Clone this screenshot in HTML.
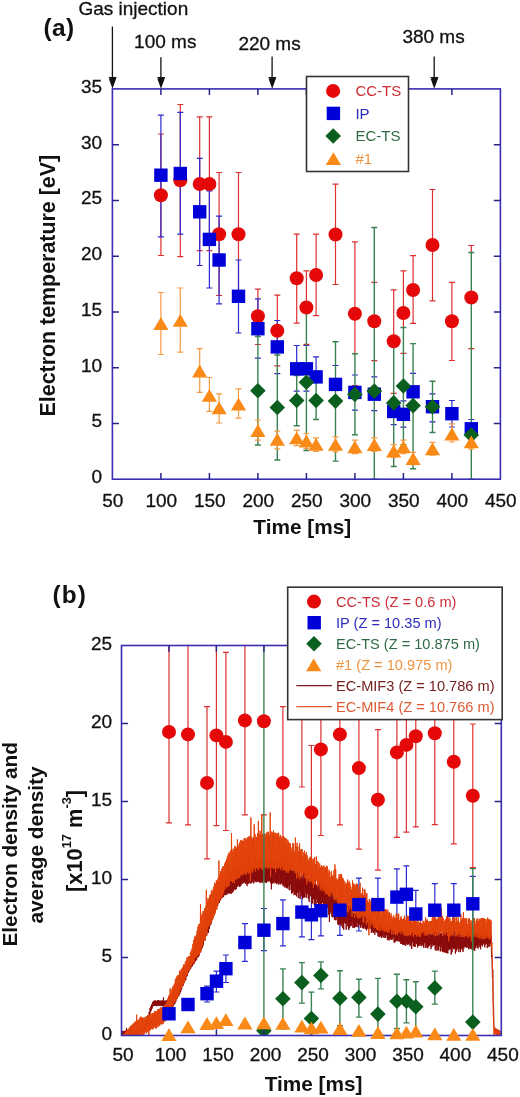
<!DOCTYPE html>
<html><head><meta charset="utf-8"><title>Electron temperature and density</title>
<style>html,body{margin:0;padding:0;background:#fff;}svg{display:block;}</style>
</head><body>
<svg width="520" height="1097" viewBox="0 0 520 1097" font-family='"Liberation Sans", Arial, sans-serif'>
<rect width="520" height="1097" fill="#fff"/>
<text x="78.4" y="15.2" font-size="19" fill="#111" stroke="#111" stroke-width="0.3">Gas injection</text>
<text x="43.6" y="36.3" font-size="24.4" fill="#111" font-weight="bold" letter-spacing="0.3">(a)</text>
<text x="134.1" y="48.4" font-size="19" fill="#111" stroke="#111" stroke-width="0.3">100 ms</text>
<text x="238.4" y="49.8" font-size="19" fill="#111" stroke="#111" stroke-width="0.3">220 ms</text>
<text x="402.4" y="43.3" font-size="19" fill="#111" stroke="#111" stroke-width="0.3">380 ms</text>
<path d="M112.4 26.5V79.5" stroke="#111" stroke-width="1.3"/><path d="M108.2 77L116.6 77L112.4 88.5L112.4 80.5Z" fill="#111"/><path d="M108.8 78.5L116 78.5L112.4 88.5Z" fill="#111"/>
<path d="M160.9 57.2V79.5" stroke="#111" stroke-width="1.3"/><path d="M156.7 77L165.1 77L160.9 88.5L160.9 80.5Z" fill="#111"/><path d="M157.3 78.5L164.5 78.5L160.9 88.5Z" fill="#111"/>
<path d="M272.1 56.4V79.5" stroke="#111" stroke-width="1.3"/><path d="M267.9 77L276.3 77L272.1 88.5L272.1 80.5Z" fill="#111"/><path d="M268.5 78.5L275.7 78.5L272.1 88.5Z" fill="#111"/>
<path d="M434.2 56.5V79.5" stroke="#111" stroke-width="1.3"/><path d="M430 77L438.4 77L434.2 88.5L434.2 80.5Z" fill="#111"/><path d="M430.6 78.5L437.8 78.5L434.2 88.5Z" fill="#111"/>
<defs><clipPath id="ca"><rect x="112.4" y="88.9" width="388" height="390.3"/></clipPath>
<clipPath id="cb"><rect x="121.5" y="645.5" width="379.8" height="390"/></clipPath></defs>
<g clip-path="url(#ca)"><path d="M160.9 134V255.5M157.9 134H163.9M157.9 255.5H163.9" stroke="#dd3030" stroke-width="1.2" fill="none"/><path d="M180.3 104.5V256.7M177.3 104.5H183.3M177.3 256.7H183.3" stroke="#dd3030" stroke-width="1.2" fill="none"/><path d="M199.7 116.8V250.6M196.7 116.8H202.7M196.7 250.6H202.7" stroke="#dd3030" stroke-width="1.2" fill="none"/><path d="M209.4 116.8V250.6M206.4 116.8H212.4M206.4 250.6H212.4" stroke="#dd3030" stroke-width="1.2" fill="none"/><path d="M219.1 172.5V295.5M216.1 172.5H222.1M216.1 295.5H222.1" stroke="#dd3030" stroke-width="1.2" fill="none"/><path d="M238.5 172.5V295.5M235.5 172.5H241.5M235.5 295.5H241.5" stroke="#dd3030" stroke-width="1.2" fill="none"/><path d="M257.9 289.1V336.5M254.9 289.1H260.9M254.9 344.5H260.9" stroke="#dd3030" stroke-width="1.2" fill="none"/><path d="M277.3 295.2V355M274.3 295.2H280.3M274.3 365.8H280.3" stroke="#dd3030" stroke-width="1.2" fill="none"/><path d="M296.7 234.2V323.1M293.7 234.2H299.7M293.7 323.1H299.7" stroke="#dd3030" stroke-width="1.2" fill="none"/><path d="M306.4 270.8V312.9M303.4 270.8H309.4M303.4 344.3H309.4" stroke="#dd3030" stroke-width="1.2" fill="none"/><path d="M316.1 234.2V315.7M313.1 234.2H319.1M313.1 315.7H319.1" stroke="#dd3030" stroke-width="1.2" fill="none"/><path d="M335.5 184.1V284.5M332.5 184.1H338.5M332.5 284.5H338.5" stroke="#dd3030" stroke-width="1.2" fill="none"/><path d="M354.9 241.8V353.7M351.9 241.8H357.9M351.9 385.5H357.9" stroke="#dd3030" stroke-width="1.2" fill="none"/><path d="M371.3 282.3H377.3M371.3 360.7H377.3" stroke="#dd3030" stroke-width="1.2" fill="none"/><path d="M393.7 289.8V339.4M390.7 289.8H396.7M390.7 393.3H396.7" stroke="#dd3030" stroke-width="1.2" fill="none"/><path d="M403.4 270.8V327.5M400.4 270.8H406.4M400.4 353.4H406.4" stroke="#dd3030" stroke-width="1.2" fill="none"/><path d="M413.1 255.7V323.3M410.1 255.7H416.1M410.1 323.3H416.1" stroke="#dd3030" stroke-width="1.2" fill="none"/><path d="M432.5 189.5V300.8M429.5 189.5H435.5M429.5 300.8H435.5" stroke="#dd3030" stroke-width="1.2" fill="none"/><path d="M451.9 282.3V360.5M448.9 282.3H454.9M448.9 360.5H454.9" stroke="#dd3030" stroke-width="1.2" fill="none"/><path d="M471.3 245.5V252.5M468.3 245.5H474.3M468.3 348.7H474.3" stroke="#dd3030" stroke-width="1.2" fill="none"/><path d="M160.9 115.2V236.8M157.9 115.2H163.9M157.9 236.8H163.9" stroke="#2a2ad0" stroke-width="1.2" fill="none"/><path d="M180.3 112.3V234.2M177.3 112.3H183.3M177.3 234.2H183.3" stroke="#2a2ad0" stroke-width="1.2" fill="none"/><path d="M199.7 158.3V265.5M196.7 158.3H202.7M196.7 265.5H202.7" stroke="#2a2ad0" stroke-width="1.2" fill="none"/><path d="M209.4 190.9V288M206.4 190.9H212.4M206.4 288H212.4" stroke="#2a2ad0" stroke-width="1.2" fill="none"/><path d="M219.1 216.2V303.8M216.1 216.2H222.1M216.1 303.8H222.1" stroke="#2a2ad0" stroke-width="1.2" fill="none"/><path d="M238.5 260V333M235.5 260H241.5M235.5 333H241.5" stroke="#2a2ad0" stroke-width="1.2" fill="none"/><path d="M257.9 298.8V336.5M254.9 298.8H260.9M254.9 358.2H260.9" stroke="#2a2ad0" stroke-width="1.2" fill="none"/><path d="M277.3 320.5V355M274.3 320.5H280.3M274.3 373.7H280.3" stroke="#2a2ad0" stroke-width="1.2" fill="none"/><path d="M296.7 345.5V375.5M293.7 345.5H299.7M293.7 391.2H299.7" stroke="#2a2ad0" stroke-width="1.2" fill="none"/><path d="M303.4 345.5H309.4M303.4 391.2H309.4" stroke="#2a2ad0" stroke-width="1.2" fill="none"/><path d="M316.1 356.8V381.4M313.1 356.8H319.1M313.1 397.1H319.1" stroke="#2a2ad0" stroke-width="1.2" fill="none"/><path d="M332.5 365.5H338.5M332.5 403.4H338.5" stroke="#2a2ad0" stroke-width="1.2" fill="none"/><path d="M351.9 375H357.9M351.9 410.1H357.9" stroke="#2a2ad0" stroke-width="1.2" fill="none"/><path d="M371.3 376.9H377.3M371.3 410.7H377.3" stroke="#2a2ad0" stroke-width="1.2" fill="none"/><path d="M390.7 398.4H396.7M390.7 424.7H396.7" stroke="#2a2ad0" stroke-width="1.2" fill="none"/><path d="M400.4 400.8H406.4M400.4 427.1H406.4" stroke="#2a2ad0" stroke-width="1.2" fill="none"/><path d="M410.1 373.3H416.1M410.1 410.3H416.1" stroke="#2a2ad0" stroke-width="1.2" fill="none"/><path d="M429.5 393.8H435.5M429.5 421.8H435.5" stroke="#2a2ad0" stroke-width="1.2" fill="none"/><path d="M451.9 400.5V427M448.9 400.5H454.9M448.9 427H454.9" stroke="#2a2ad0" stroke-width="1.2" fill="none"/><path d="M468.3 419.5H474.3M468.3 437.9H474.3" stroke="#2a2ad0" stroke-width="1.2" fill="none"/><path d="M257.9 336.5V445M254.9 336.5H260.9M254.9 445H260.9" stroke="#3a8252" stroke-width="1.4" fill="none"/><path d="M277.3 355V460M274.3 355H280.3M274.3 460H280.3" stroke="#3a8252" stroke-width="1.4" fill="none"/><path d="M296.7 375.5V425.7M293.7 375.5H299.7M293.7 425.7H299.7" stroke="#3a8252" stroke-width="1.4" fill="none"/><path d="M306.4 312.9V450.5M303.4 312.9H309.4M303.4 450.5H309.4" stroke="#3a8252" stroke-width="1.4" fill="none"/><path d="M316.1 381.4V419.5M313.1 381.4H319.1M313.1 419.5H319.1" stroke="#3a8252" stroke-width="1.4" fill="none"/><path d="M335.5 341.7V461.1M332.5 341.7H338.5M332.5 461.1H338.5" stroke="#3a8252" stroke-width="1.4" fill="none"/><path d="M354.9 353.7V434.8M351.9 353.7H357.9M351.9 434.8H357.9" stroke="#3a8252" stroke-width="1.4" fill="none"/><path d="M374.3 227.5V479.2M371.3 227.5H377.3M371.3 479.2H377.3" stroke="#3a8252" stroke-width="1.4" fill="none"/><path d="M393.7 339.4V466.5M390.7 339.4H396.7M390.7 466.5H396.7" stroke="#3a8252" stroke-width="1.4" fill="none"/><path d="M403.4 327.5V444.6M400.4 327.5H406.4M400.4 444.6H406.4" stroke="#3a8252" stroke-width="1.4" fill="none"/><path d="M413.1 343.6V468.8M410.1 343.6H416.1M410.1 468.8H416.1" stroke="#3a8252" stroke-width="1.4" fill="none"/><path d="M432.5 381.3V432.5M429.5 381.3H435.5M429.5 432.5H435.5" stroke="#3a8252" stroke-width="1.4" fill="none"/><path d="M471.3 252.5V479.2M468.3 252.5H474.3M468.3 479.2H474.3" stroke="#3a8252" stroke-width="1.4" fill="none"/><path d="M160.9 292.5V354.5M157.9 292.5H163.9M157.9 354.5H163.9" stroke="#f59a40" stroke-width="1.2" fill="none"/><path d="M180.3 288V352.1M177.3 288H183.3M177.3 352.1H183.3" stroke="#f59a40" stroke-width="1.2" fill="none"/><path d="M199.7 348.7V392.4M196.7 348.7H202.7M196.7 392.4H202.7" stroke="#f59a40" stroke-width="1.2" fill="none"/><path d="M209.4 377.5V411.3M206.4 377.5H212.4M206.4 411.3H212.4" stroke="#f59a40" stroke-width="1.2" fill="none"/><path d="M219.1 393.8V423M216.1 393.8H222.1M216.1 423H222.1" stroke="#f59a40" stroke-width="1.2" fill="none"/><path d="M238.5 388.8V418.2M235.5 388.8H241.5M235.5 418.2H241.5" stroke="#f59a40" stroke-width="1.2" fill="none"/><path d="M257.9 420V440.2M254.9 420H260.9M254.9 440.2H260.9" stroke="#f59a40" stroke-width="1.2" fill="none"/><path d="M277.3 431.2V448.8M274.3 431.2H280.3M274.3 448.8H280.3" stroke="#f59a40" stroke-width="1.2" fill="none"/><path d="M296.7 430.1V445.7M293.7 430.1H299.7M293.7 445.7H299.7" stroke="#f59a40" stroke-width="1.2" fill="none"/><path d="M306.4 433.5V448.5M303.4 433.5H309.4M303.4 448.5H309.4" stroke="#f59a40" stroke-width="1.2" fill="none"/><path d="M316.1 437.9V451.3M313.1 437.9H319.1M313.1 451.3H319.1" stroke="#f59a40" stroke-width="1.2" fill="none"/><path d="M335.5 436.8V451.9M332.5 436.8H338.5M332.5 451.9H338.5" stroke="#f59a40" stroke-width="1.2" fill="none"/><path d="M354.9 440.2V453.6M351.9 440.2H357.9M351.9 453.6H357.9" stroke="#f59a40" stroke-width="1.2" fill="none"/><path d="M374.3 437.9V451.3M371.3 437.9H377.3M371.3 451.3H377.3" stroke="#f59a40" stroke-width="1.2" fill="none"/><path d="M393.7 444.6V457.5M390.7 444.6H396.7M390.7 457.5H396.7" stroke="#f59a40" stroke-width="1.2" fill="none"/><path d="M403.4 440.2V453.6M400.4 440.2H406.4M400.4 453.6H406.4" stroke="#f59a40" stroke-width="1.2" fill="none"/><path d="M413.1 452.4V464.7M410.1 452.4H416.1M410.1 464.7H416.1" stroke="#f59a40" stroke-width="1.2" fill="none"/><path d="M432.5 442.4V455.2M429.5 442.4H435.5M429.5 455.2H435.5" stroke="#f59a40" stroke-width="1.2" fill="none"/><path d="M451.9 423.8V442M448.9 423.8H454.9M448.9 442H454.9" stroke="#f59a40" stroke-width="1.2" fill="none"/><path d="M471.3 434.6V449.1M468.3 434.6H474.3M468.3 449.1H474.3" stroke="#f59a40" stroke-width="1.2" fill="none"/><circle cx="160.9" cy="195.3" r="7" fill="#e40808"/><circle cx="180.3" cy="180.3" r="7" fill="#e40808"/><circle cx="199.7" cy="184" r="7" fill="#e40808"/><circle cx="209.4" cy="184" r="7" fill="#e40808"/><circle cx="219.1" cy="234.2" r="7" fill="#e40808"/><circle cx="238.5" cy="234.2" r="7" fill="#e40808"/><circle cx="257.9" cy="316.3" r="7" fill="#e40808"/><circle cx="277.3" cy="330.8" r="7" fill="#e40808"/><circle cx="296.7" cy="278.3" r="7" fill="#e40808"/><circle cx="306.4" cy="307.5" r="7" fill="#e40808"/><circle cx="316.1" cy="275" r="7" fill="#e40808"/><circle cx="335.5" cy="234.5" r="7" fill="#e40808"/><circle cx="354.9" cy="313.7" r="7" fill="#e40808"/><circle cx="374.3" cy="321.3" r="7" fill="#e40808"/><circle cx="393.7" cy="341.3" r="7" fill="#e40808"/><circle cx="403.4" cy="313" r="7" fill="#e40808"/><circle cx="413.1" cy="290" r="7" fill="#e40808"/><circle cx="432.5" cy="245" r="7" fill="#e40808"/><circle cx="451.9" cy="321.3" r="7" fill="#e40808"/><circle cx="471.3" cy="297.5" r="7" fill="#e40808"/><rect x="154.2" y="168.5" width="13.4" height="13.4" fill="#0000d8"/><rect x="173.6" y="166.8" width="13.4" height="13.4" fill="#0000d8"/><rect x="193" y="205.1" width="13.4" height="13.4" fill="#0000d8"/><rect x="202.7" y="232.7" width="13.4" height="13.4" fill="#0000d8"/><rect x="212.4" y="253.3" width="13.4" height="13.4" fill="#0000d8"/><rect x="231.8" y="289.6" width="13.4" height="13.4" fill="#0000d8"/><rect x="251.2" y="322" width="13.4" height="13.4" fill="#0000d8"/><rect x="270.6" y="340.2" width="13.4" height="13.4" fill="#0000d8"/><rect x="290" y="362.1" width="13.4" height="13.4" fill="#0000d8"/><rect x="299.7" y="362.1" width="13.4" height="13.4" fill="#0000d8"/><rect x="309.4" y="370.2" width="13.4" height="13.4" fill="#0000d8"/><rect x="328.8" y="377.7" width="13.4" height="13.4" fill="#0000d8"/><rect x="348.2" y="385.7" width="13.4" height="13.4" fill="#0000d8"/><rect x="367.6" y="387.5" width="13.4" height="13.4" fill="#0000d8"/><rect x="387" y="404.8" width="13.4" height="13.4" fill="#0000d8"/><rect x="396.7" y="407.6" width="13.4" height="13.4" fill="#0000d8"/><rect x="406.4" y="385.1" width="13.4" height="13.4" fill="#0000d8"/><rect x="425.8" y="400" width="13.4" height="13.4" fill="#0000d8"/><rect x="445.2" y="407" width="13.4" height="13.4" fill="#0000d8"/><rect x="464.6" y="422.1" width="13.4" height="13.4" fill="#0000d8"/><path d="M257.9 382.9L265.7 390.7L257.9 398.5L250.1 390.7Z" fill="#0a5e1e"/><path d="M277.3 399.7L285.1 407.5L277.3 415.3L269.5 407.5Z" fill="#0a5e1e"/><path d="M296.7 392.7L304.5 400.5L296.7 408.3L288.9 400.5Z" fill="#0a5e1e"/><path d="M306.4 374.4L314.2 382.2L306.4 390L298.6 382.2Z" fill="#0a5e1e"/><path d="M316.1 392.7L323.9 400.5L316.1 408.3L308.3 400.5Z" fill="#0a5e1e"/><path d="M335.5 393.3L343.3 401.1L335.5 408.9L327.7 401.1Z" fill="#0a5e1e"/><path d="M354.9 386.6L362.7 394.4L354.9 402.2L347.1 394.4Z" fill="#0a5e1e"/><path d="M374.3 383.3L382.1 391.1L374.3 398.9L366.5 391.1Z" fill="#0a5e1e"/><path d="M393.7 395.1L401.5 402.9L393.7 410.7L385.9 402.9Z" fill="#0a5e1e"/><path d="M403.4 378.2L411.2 386L403.4 393.8L395.6 386Z" fill="#0a5e1e"/><path d="M413.1 397.8L420.9 405.6L413.1 413.4L405.3 405.6Z" fill="#0a5e1e"/><path d="M432.5 398.9L440.3 406.7L432.5 414.5L424.7 406.7Z" fill="#0a5e1e"/><path d="M471.3 427.2L479.1 435L471.3 442.8L463.5 435Z" fill="#0a5e1e"/><path d="M160.9 317.1L168.5 329.9L153.3 329.9Z" fill="#fa8a18"/><path d="M180.3 314L187.9 326.8L172.7 326.8Z" fill="#fa8a18"/><path d="M199.7 364.6L207.3 377.4L192.1 377.4Z" fill="#fa8a18"/><path d="M209.4 388.9L217 401.7L201.8 401.7Z" fill="#fa8a18"/><path d="M219.1 401.4L226.7 414.2L211.5 414.2Z" fill="#fa8a18"/><path d="M238.5 397.8L246.1 410.6L230.9 410.6Z" fill="#fa8a18"/><path d="M257.9 424.1L265.5 436.9L250.3 436.9Z" fill="#fa8a18"/><path d="M277.3 433L284.9 445.8L269.7 445.8Z" fill="#fa8a18"/><path d="M296.7 431.5L304.3 444.3L289.1 444.3Z" fill="#fa8a18"/><path d="M306.4 434.6L314 447.4L298.8 447.4Z" fill="#fa8a18"/><path d="M316.1 438L323.7 450.8L308.5 450.8Z" fill="#fa8a18"/><path d="M335.5 438L343.1 450.8L327.9 450.8Z" fill="#fa8a18"/><path d="M354.9 440.5L362.5 453.3L347.3 453.3Z" fill="#fa8a18"/><path d="M374.3 438.2L381.9 451L366.7 451Z" fill="#fa8a18"/><path d="M393.7 444.6L401.3 457.4L386.1 457.4Z" fill="#fa8a18"/><path d="M403.4 440.5L411 453.3L395.8 453.3Z" fill="#fa8a18"/><path d="M413.1 452.2L420.7 465L405.5 465Z" fill="#fa8a18"/><path d="M432.5 442.4L440.1 455.2L424.9 455.2Z" fill="#fa8a18"/><path d="M451.9 427.6L459.5 440.4L444.3 440.4Z" fill="#fa8a18"/><path d="M471.3 435.4L478.9 448.2L463.7 448.2Z" fill="#fa8a18"/></g>
<rect x="112.4" y="88.9" width="388" height="390.3" fill="none" stroke="#3a2eb4" stroke-width="1.6"/>
<path d="M160.9 479.2v-6.2M160.9 88.9v6.2M209.4 479.2v-6.2M209.4 88.9v6.2M257.9 479.2v-6.2M257.9 88.9v6.2M306.4 479.2v-6.2M306.4 88.9v6.2M354.9 479.2v-6.2M354.9 88.9v6.2M403.4 479.2v-6.2M403.4 88.9v6.2M451.9 479.2v-6.2M451.9 88.9v6.2M112.4 423.4h6.6M500.4 423.4h-6.6M112.4 367.7h6.6M500.4 367.7h-6.6M112.4 311.9h6.6M500.4 311.9h-6.6M112.4 256.2h6.6M500.4 256.2h-6.6M112.4 200.4h6.6M500.4 200.4h-6.6M112.4 144.7h6.6M500.4 144.7h-6.6" stroke="#2c2488" stroke-width="1.5" fill="none"/>
<text x="112.8" y="506.6" font-size="19" fill="#111" text-anchor="middle" stroke="#111" stroke-width="0.3">50</text>
<text x="161.3" y="506.6" font-size="19" fill="#111" text-anchor="middle" stroke="#111" stroke-width="0.3">100</text>
<text x="209.8" y="506.6" font-size="19" fill="#111" text-anchor="middle" stroke="#111" stroke-width="0.3">150</text>
<text x="258.3" y="506.6" font-size="19" fill="#111" text-anchor="middle" stroke="#111" stroke-width="0.3">200</text>
<text x="306.8" y="506.6" font-size="19" fill="#111" text-anchor="middle" stroke="#111" stroke-width="0.3">250</text>
<text x="355.3" y="506.6" font-size="19" fill="#111" text-anchor="middle" stroke="#111" stroke-width="0.3">300</text>
<text x="403.8" y="506.6" font-size="19" fill="#111" text-anchor="middle" stroke="#111" stroke-width="0.3">350</text>
<text x="452.3" y="506.6" font-size="19" fill="#111" text-anchor="middle" stroke="#111" stroke-width="0.3">400</text>
<text x="500.8" y="506.6" font-size="19" fill="#111" text-anchor="middle" stroke="#111" stroke-width="0.3">450</text>
<text x="102.2" y="483.2" font-size="19" fill="#111" text-anchor="end" stroke="#111" stroke-width="0.3">0</text>
<text x="102.2" y="427.4" font-size="19" fill="#111" text-anchor="end" stroke="#111" stroke-width="0.3">5</text>
<text x="102.2" y="371.7" font-size="19" fill="#111" text-anchor="end" stroke="#111" stroke-width="0.3">10</text>
<text x="102.2" y="315.9" font-size="19" fill="#111" text-anchor="end" stroke="#111" stroke-width="0.3">15</text>
<text x="102.2" y="260.2" font-size="19" fill="#111" text-anchor="end" stroke="#111" stroke-width="0.3">20</text>
<text x="102.2" y="204.4" font-size="19" fill="#111" text-anchor="end" stroke="#111" stroke-width="0.3">25</text>
<text x="102.2" y="148.7" font-size="19" fill="#111" text-anchor="end" stroke="#111" stroke-width="0.3">30</text>
<text x="102.2" y="92.9" font-size="19" fill="#111" text-anchor="end" stroke="#111" stroke-width="0.3">35</text>
<text x="302.3" y="534.4" font-size="20.8" fill="#111" font-weight="bold" text-anchor="middle">Time [ms]</text>
<text transform="translate(55.2 285.7) rotate(-90)" font-size="21.4" font-weight="bold" fill="#111" text-anchor="middle">Electron temperature [eV]</text>
<rect x="306.5" y="76.5" width="102" height="95" fill="#fff" stroke="#333" stroke-width="1.6"/>
<circle cx="333.1" cy="90.9" r="7" fill="#e40808"/>
<text x="355.4" y="96.3" font-size="15" fill="#cc2c36">CC-TS</text>
<rect x="326.7" y="106.7" width="13.4" height="13.4" fill="#0000d8"/>
<text x="355.4" y="118.8" font-size="15" fill="#2c2cbc">IP</text>
<path d="M333.2 128.2L341 136L333.2 143.8L325.4 136Z" fill="#0a5e1e"/>
<text x="355.4" y="141.4" font-size="15" fill="#2f6a44">EC-TS</text>
<path d="M333.4 152.3L341 165.1L325.8 165.1Z" fill="#fa8a18"/>
<text x="355.4" y="164.1" font-size="15" fill="#ee9440">#1</text>
<text x="52.6" y="603" font-size="24.4" fill="#111" font-weight="bold" letter-spacing="1.1">(b)</text>
<g clip-path="url(#cb)"><path d="M169 640.8V822.9M166 640.8H172M166 822.9H172" stroke="#dd3030" stroke-width="1.2" fill="none"/><path d="M188 643.9V824.9M185 643.9H191M185 824.9H191" stroke="#dd3030" stroke-width="1.2" fill="none"/><path d="M207 706.7V858.8M204 706.7H210M204 858.8H210" stroke="#dd3030" stroke-width="1.2" fill="none"/><path d="M216.4 645V825.7M213.4 645H219.4M213.4 825.7H219.4" stroke="#dd3030" stroke-width="1.2" fill="none"/><path d="M225.9 652.4V830.5M222.9 652.4H228.9M222.9 830.5H228.9" stroke="#dd3030" stroke-width="1.2" fill="none"/><path d="M244.9 625.2V814.9M241.9 625.2H247.9M241.9 814.9H247.9" stroke="#dd3030" stroke-width="1.2" fill="none"/><path d="M263.9 626.8V629.9M260.9 626.8H266.9M260.9 814.9H266.9" stroke="#dd3030" stroke-width="1.2" fill="none"/><path d="M282.9 706.7V859.2M279.9 706.7H285.9M279.9 859.2H285.9" stroke="#dd3030" stroke-width="1.2" fill="none"/><path d="M301.9 620.5V787M298.9 620.5H304.9M298.9 787H304.9" stroke="#dd3030" stroke-width="1.2" fill="none"/><path d="M311.4 745.5V879.5M308.4 745.5H314.4M308.4 879.5H314.4" stroke="#dd3030" stroke-width="1.2" fill="none"/><path d="M320.9 663.3V835.5M317.9 663.3H323.9M317.9 835.5H323.9" stroke="#dd3030" stroke-width="1.2" fill="none"/><path d="M339.9 643.9V824.9M336.9 643.9H342.9M336.9 824.9H342.9" stroke="#dd3030" stroke-width="1.2" fill="none"/><path d="M358.9 687V849.2M355.9 687H361.9M355.9 849.2H361.9" stroke="#dd3030" stroke-width="1.2" fill="none"/><path d="M377.9 729.7V870.1M374.9 729.7H380.9M374.9 870.1H380.9" stroke="#dd3030" stroke-width="1.2" fill="none"/><path d="M396.9 667.3V837.4M393.9 667.3H399.9M393.9 837.4H399.9" stroke="#dd3030" stroke-width="1.2" fill="none"/><path d="M406.4 658V832.2M403.4 658H409.4M403.4 832.2H409.4" stroke="#dd3030" stroke-width="1.2" fill="none"/><path d="M415.8 645.5V826.8M412.8 645.5H418.8M412.8 826.8H418.8" stroke="#dd3030" stroke-width="1.2" fill="none"/><path d="M434.8 642.4V824.6M431.8 642.4H437.8M431.8 824.6H437.8" stroke="#dd3030" stroke-width="1.2" fill="none"/><path d="M453.8 679.8V843.9M450.8 679.8H456.8M450.8 843.9H456.8" stroke="#dd3030" stroke-width="1.2" fill="none"/><path d="M472.8 724V867.6M469.8 724H475.8M469.8 867.6H475.8" stroke="#dd3030" stroke-width="1.2" fill="none"/><path d="M169 1010.5V1016.8M166 1010.5H172M166 1016.8H172" stroke="#2a2ad0" stroke-width="1.2" fill="none"/><path d="M188 1001.2V1007.4M185 1001.2H191M185 1007.4H191" stroke="#2a2ad0" stroke-width="1.2" fill="none"/><path d="M207 986.2V1002M204 986.2H210M204 1002H210" stroke="#2a2ad0" stroke-width="1.2" fill="none"/><path d="M216.4 971.2V992M213.4 971.2H219.4M213.4 992H219.4" stroke="#2a2ad0" stroke-width="1.2" fill="none"/><path d="M225.9 955V982.5M222.9 955H228.9M222.9 982.5H228.9" stroke="#2a2ad0" stroke-width="1.2" fill="none"/><path d="M244.9 923.6V961.4M241.9 923.6H247.9M241.9 961.4H247.9" stroke="#2a2ad0" stroke-width="1.2" fill="none"/><path d="M263.9 908.5V950.6M260.9 908.5H266.9M260.9 950.6H266.9" stroke="#2a2ad0" stroke-width="1.2" fill="none"/><path d="M282.9 899.9V945.8M279.9 899.9H285.9M279.9 945.8H285.9" stroke="#2a2ad0" stroke-width="1.2" fill="none"/><path d="M301.9 887.3V936.9M298.9 887.3H304.9M298.9 936.9H304.9" stroke="#2a2ad0" stroke-width="1.2" fill="none"/><path d="M311.4 890V939.6M308.4 890H314.4M308.4 939.6H314.4" stroke="#2a2ad0" stroke-width="1.2" fill="none"/><path d="M320.9 885.7V935.8M317.9 885.7H323.9M317.9 935.8H323.9" stroke="#2a2ad0" stroke-width="1.2" fill="none"/><path d="M339.9 885.1V935.3M336.9 885.1H342.9M336.9 935.3H342.9" stroke="#2a2ad0" stroke-width="1.2" fill="none"/><path d="M358.9 878.1V931M355.9 878.1H361.9M355.9 931H361.9" stroke="#2a2ad0" stroke-width="1.2" fill="none"/><path d="M377.9 878.1V931M374.9 878.1H380.9M374.9 931H380.9" stroke="#2a2ad0" stroke-width="1.2" fill="none"/><path d="M396.9 868.9V925.4M393.9 868.9H399.9M393.9 925.4H399.9" stroke="#2a2ad0" stroke-width="1.2" fill="none"/><path d="M406.4 865.9V922.7M403.4 865.9H409.4M403.4 922.7H409.4" stroke="#2a2ad0" stroke-width="1.2" fill="none"/><path d="M415.8 890.3V937.7M412.8 890.3H418.8M412.8 937.7H418.8" stroke="#2a2ad0" stroke-width="1.2" fill="none"/><path d="M434.8 883.7V936.8M431.8 883.7H437.8M431.8 936.8H437.8" stroke="#2a2ad0" stroke-width="1.2" fill="none"/><path d="M453.8 883.7V936.8M450.8 883.7H456.8M450.8 936.8H456.8" stroke="#2a2ad0" stroke-width="1.2" fill="none"/><path d="M472.8 876.4V931.3M469.8 876.4H475.8M469.8 931.3H475.8" stroke="#2a2ad0" stroke-width="1.2" fill="none"/><path d="M121.5 1031.1L121.9 1035.4L122.3 1031.1L122.8 1035.5L123.2 1030.8L123.6 1034.9L124 1031.1L124.4 1035.2L124.9 1030.8L125.3 1035.3L125.7 1030.7L126.1 1035.1L126.5 1027.9L127 1035.3L127.4 1030.6L127.8 1034.9L128.2 1030.5L128.6 1034.9L129.1 1030L129.5 1035.4L129.9 1030.2L130.3 1035.4L130.7 1030.2L131.2 1035.2L131.6 1030.6L132 1034.9L132.4 1030.7L132.8 1035.5L133.3 1030.6L133.7 1035.2L134.1 1030.1L134.5 1035.2L134.9 1030L135.4 1034.9L135.8 1030.5L136.2 1035.5L136.6 1030.4L137 1035.5L137.5 1030L137.9 1035.4L138.3 1030.6L138.7 1034.8L139.1 1030L139.6 1035.5L140 1030.2L140.4 1035L140.8 1029.6L141.2 1033.4L141.7 1028.3L142.1 1032.7L142.5 1027.4L142.9 1031.6L143.3 1026.4L143.8 1030.6L144.2 1025.3L144.6 1029.7L145 1024.3L145.4 1029.7L145.9 1023.6L146.3 1027.6L146.7 1022.7L147.1 1026.1L147.5 1019.5L148 1022.5L148.4 1015.6L148.8 1018.9L149.2 1011.8L149.6 1015.4L150.1 1008L150.5 1012.3L150.9 1006.1L151.3 1010.6L151.7 1004.2L152.2 1008.5L152.6 1002L153 1006.4L153.4 1001L153.8 1005.9L154.3 1000.6L154.7 1005.8L155.1 1000.4L155.5 1006L155.9 1000.8L156.4 1006.2L156.8 1000.8L157.2 1005.7L157.6 1000.2L158 1005.6L158.5 1000.3L158.9 1005.9L159.3 1000.7L159.7 1006L160.1 1000.6L160.6 1005.9L161 1000.7L161.4 1005.8L161.8 1000.6L162.2 1006.3L162.7 1000.3L163.1 1006.2L163.5 997.4L163.9 1006.2L164.3 1001L164.8 1008L165.2 1000.5L165.6 1006.5L166 1000.7L166.4 1007.1L166.9 1000.3L167.3 1008.3L167.7 1000.1L168.1 1009.2L168.5 999.6L169 1009.5L169.4 995.5L169.8 1010.5L170.2 998.8L170.6 1010.4L171.1 997.6L171.5 1009.6L171.9 995.7L172.3 1008.3L172.7 995.4L173.2 1006.4L173.6 992.8L174 1004.7L174.4 991.4L174.8 1003.9L175.3 990.2L175.7 1002.2L176.1 987.9L176.5 1000.2L176.9 986.5L177.4 998.5L177.8 984.8L178.2 996.6L178.6 983.7L179 995.7L179.5 982.1L179.9 993.8L180.3 980.8L180.7 991.9L181.1 978.9L181.6 989.7L182 977.2L182.4 986.9L182.8 975.2L183.2 985.6L183.7 971.8L184.1 983.2L184.5 971L184.9 981L185.3 969.3L185.8 980.1L186.2 968.4L186.6 976.9L187 961.7L187.4 975.7L187.9 964.3L188.3 973L188.7 962.8L189.1 971.2L189.5 961L190 969.5L190.4 959.2L190.8 968.5L191.2 957L191.6 967L192.1 954.6L192.5 966.2L192.9 953L193.3 964.4L193.7 950.4L194.2 963.7L194.6 948.4L195 961.8L195.4 946.1L195.8 960.9L196.3 943.4L196.7 959.7L197.1 942.3L197.5 957.3L197.9 939.7L198.4 957.1L198.8 935.4L199.2 955.6L199.6 933.6L200 953L200.5 933.6L200.9 951.3L201.3 930.9L201.7 949.1L202.1 928.5L202.6 947.2L203 927.3L203.4 945.2L203.8 924.4L204.2 940.7L204.7 921.1L205.1 940.4L205.5 920.3L205.9 936.3L206.3 918.8L206.8 935.4L207.2 914.8L207.6 931.9L208 913.3L208.4 933L208.9 911.4L209.3 928.8L209.7 910.9L210.1 925.8L210.5 907.1L211 924.3L211.4 906.8L211.8 920.1L212.2 904.5L212.6 919.4L213.1 902.2L213.5 917.1L213.9 901.2L214.3 914.3L214.7 898L215.2 911.6L215.6 896.3L216 909.5L216.4 893.7L216.8 907.2L217.3 893.3L217.7 905.5L218.1 890.7L218.5 903.3L218.9 888.8L219.4 903L219.8 888.3L220.2 900.6L220.6 886L221 899.1L221.5 885.1L221.9 898.1L222.3 883.4L222.7 897.4L223.1 882.1L223.6 896.9L224 880.4L224.4 894.6L224.8 879.3L225.2 895.3L225.7 879.6L226.1 894.7L226.5 877.4L226.9 894.6L227.3 875.9L227.8 893.7L228.2 876.3L228.6 892.9L229 874.4L229.4 893.7L229.9 873.8L230.3 892.6L230.7 872.8L231.1 894L231.5 872.3L232 892.3L232.4 870.4L232.8 892.5L233.2 871L233.6 890.7L234.1 871.2L234.5 889.2L234.9 868.4L235.3 890L235.7 868.8L236.2 889.1L236.6 868.6L237 886.8L237.4 868.8L237.8 886.5L238.3 867.8L238.7 885.5L239.1 867.3L239.5 886.9L239.9 865.4L240.4 886.3L240.8 866.6L241.2 885.2L241.6 865.2L242 883.7L242.5 864.7L242.9 883.3L243.3 864.8L243.7 883.1L244.1 864L244.6 882.3L245 864.6L245.4 883.7L245.8 864.3L246.2 883.9L246.7 863.7L247.1 886.1L247.5 864L247.9 883.8L248.3 853.3L248.8 883.5L249.2 863.9L249.6 882.5L250 855.3L250.4 883.3L250.9 863.6L251.3 883.3L251.7 862.9L252.1 882.4L252.5 862.5L253 881.2L253.4 861.3L253.8 883.4L254.2 862.2L254.6 881.3L255.1 864.5L255.5 881.6L255.9 858.6L256.3 882.2L256.7 861.8L257.2 881.4L257.6 862.2L258 881.9L258.4 861.7L258.8 881.7L259.3 862.4L259.7 882.7L260.1 861.5L260.5 882.4L260.9 861.3L261.4 882L261.8 861.6L262.2 883.1L262.6 860.8L263 881.4L263.5 860.8L263.9 881.1L264.3 862.8L264.7 882.3L265.1 862.1L265.6 882.5L266 861L266.4 883L266.8 860.3L267.2 881.6L267.7 860.1L268.1 881.6L268.5 860L268.9 880.5L269.3 861.2L269.8 881.4L270.2 862L270.6 883.2L271 860.1L271.4 889.3L271.9 860.3L272.3 883.6L272.7 860.3L273.1 882.5L273.5 861.9L274 883.4L274.4 860.9L274.8 881.9L275.2 862.1L275.6 883.1L276.1 861.8L276.5 883.8L276.9 860.1L277.3 882.7L277.7 861.6L278.2 884.5L278.6 863.1L279 884.3L279.4 860.7L279.8 882.8L280.3 863L280.7 884.4L281.1 861.9L281.5 883.3L281.9 863.7L282.4 884.4L282.8 864.1L283.2 886.3L283.6 861.5L284 885.3L284.5 862.6L284.9 887.5L285.3 862L285.7 887.2L286.1 863.8L286.6 888.1L287 862.8L287.4 888.4L287.8 864.1L288.2 886.3L288.7 863.3L289.1 889.7L289.5 864.2L289.9 890.3L290.3 864.5L290.8 884.8L291.2 865L291.6 893.7L292 867.3L292.4 892.9L292.9 865.1L293.3 891.5L293.7 870.9L294.1 895.1L294.5 865L295 894.2L295.4 869.1L295.8 895.2L296.2 872.5L296.6 896.4L297.1 868.7L297.5 892.9L297.9 873.4L298.3 898L298.7 873.6L299.2 891.6L299.6 868.8L300 899L300.4 875.9L300.8 896.3L301.3 876.7L301.7 895.2L302.1 872.3L302.5 899.1L302.9 878.4L303.4 897.7L303.8 872.6L304.2 897.6L304.6 870.8L305 897.3L305.5 877.8L305.9 892.9L306.3 871.2L306.7 897.7L307.1 872.9L307.6 893.9L308 876.9L308.4 898.9L308.8 880.9L309.2 901.8L309.7 873.5L310.1 896.3L310.5 874.5L310.9 895.2L311.3 875.9L311.8 903.5L312.2 882.8L312.6 903.3L313 874.7L313.4 899L313.9 879.4L314.3 905.1L314.7 883.8L315.1 904.3L315.5 877L316 905.9L316.4 884.8L316.8 899L317.2 886L317.6 902.9L318.1 877.8L318.5 907.8L318.9 885.2L319.3 909.2L319.7 882.6L320.2 909.8L320.6 888.8L321 910.6L321.4 880.8L321.8 903.3L322.3 881.8L322.7 902.7L323.1 882.8L323.5 903.8L323.9 887.7L324.4 912.6L324.8 888.8L325.2 909.2L325.6 887.2L326 910L326.5 885.2L326.9 906L327.3 885.7L327.7 907.6L328.1 886.9L328.6 914.6L329 888.7L329.4 921.8L329.8 893.3L330.2 911.6L330.7 893.8L331.1 914L331.5 889.2L331.9 916.7L332.3 891.5L332.8 917.4L333.2 898.8L333.6 913.1L334 892.4L334.4 919.8L334.9 894.9L335.3 920.2L335.7 893.9L336.1 920.2L336.5 896.9L337 914.9L337.4 897L337.8 924.3L338.2 902.3L338.6 925.1L339.1 898.5L339.5 924.1L339.9 900.9L340.3 924.3L340.7 903.6L341.2 926.1L341.6 901.5L342 923.8L342.4 904.2L342.8 928.2L343.3 905.4L343.7 929.7L344.1 894.7L344.5 922.7L344.9 907.9L345.4 923.8L345.8 905.6L346.2 929.7L346.6 905.7L347 923.5L347.5 905L347.9 926.5L348.3 905L348.7 930L349.1 906L349.6 928.2L350 908.1L350.4 926.2L350.8 906.8L351.2 926L351.7 909.1L352.1 923.2L352.5 907.5L352.9 927.8L353.3 912.8L353.8 927.7L354.2 913.6L354.6 927.7L355 899.4L355.4 926.7L355.9 909.4L356.3 926.9L356.7 912L357.1 923.1L357.5 912.2L358 927.4L358.4 910.8L358.8 925.6L359.2 914.4L359.6 924.1L360.1 907.9L360.5 927.6L360.9 916.1L361.3 925.1L361.7 912.9L362.2 927.9L362.6 909.2L363 928.3L363.4 910.5L363.8 928.7L364.3 914.9L364.7 927.4L365.1 915L365.5 929.1L365.9 915.9L366.4 930.3L366.8 918.1L367.2 928.2L367.6 918.1L368 929.3L368.5 916.7L368.9 928.4L369.3 919L369.7 928.5L370.1 917.9L370.6 928.4L371 922.3L371.4 932.9L371.8 919L372.2 931.6L372.7 920.3L373.1 932.6L373.5 922.6L373.9 932.9L374.3 922.7L374.8 934.8L375.2 921.5L375.6 931.4L376 921.8L376.4 932.2L376.9 915L377.3 933.2L377.7 922.2L378.1 936.1L378.5 923L379 936.9L379.4 922.2L379.8 937.2L380.2 922.2L380.6 935.8L381.1 922.1L381.5 937.8L381.9 922.6L382.3 936.6L382.7 926.4L383.2 937.6L383.6 923.4L384 934.7L384.4 927.5L384.8 938L385.3 927.8L385.7 937.6L386.1 923.8L386.5 935.1L386.9 926.7L387.4 940.1L387.8 927.1L388.2 939L388.6 925L389 940.5L389.5 925L389.9 940L390.3 927.7L390.7 938.6L391.1 928.4L391.6 939.7L392 923.5L392.4 939.4L392.8 928.5L393.2 937.5L393.7 928.4L394.1 942.6L394.5 928.7L394.9 942.4L395.3 930.6L395.8 941.4L396.2 926L396.6 940.6L397 926.2L397.4 941.1L397.9 925.2L398.3 940.3L398.7 927.8L399.1 941.8L399.5 923.7L400 941.5L400.4 926.4L400.8 943.9L401.2 926.7L401.6 943.9L402.1 928.4L402.5 944.5L402.9 928.6L403.3 944.7L403.7 928.5L404.2 945L404.6 929.4L405 945.2L405.4 927.2L405.8 945.7L406.3 928L406.7 943.6L407.1 930.9L407.5 944.7L407.9 927.5L408.4 944.4L408.8 932.5L409.2 943.7L409.6 927.8L410 946.2L410.5 933.3L410.9 944.6L411.3 928.4L411.7 949L412.1 927.8L412.6 942.2L413 927.9L413.4 945.9L413.8 928.8L414.2 946.7L414.7 928.1L415.1 947L415.5 928.5L415.9 943.4L416.3 932L416.8 944.3L417.2 931.4L417.6 947.6L418 931.5L418.4 945.8L418.9 930.7L419.3 945.6L419.7 928.5L420.1 943.9L420.5 930.4L421 946.3L421.4 932.2L421.8 945.7L422.2 926.4L422.6 945.1L423.1 929.4L423.5 947.6L423.9 930.8L424.3 943.1L424.7 930L425.2 947.9L425.6 932.7L426 944.5L426.4 929.6L426.8 947.8L427.3 932.1L427.7 948.3L428.1 931.1L428.5 946.7L428.9 929.8L429.4 945.9L429.8 934.5L430.2 944.3L430.6 933L431 949.2L431.5 934.6L431.9 947L432.3 930.5L432.7 944.7L433.1 930L433.6 945.6L434 930.8L434.4 945L434.8 929.8L435.2 949.7L435.7 935.9L436.1 950.9L436.5 930.7L436.9 945.5L437.3 935.5L437.8 950.5L438.2 932.7L438.6 950.2L439 931.2L439.4 946.2L439.9 935.1L440.3 951.5L440.7 930.7L441.1 946.8L441.5 933.1L442 951L442.4 936.2L442.8 952.1L443.2 931.1L443.6 952.2L444.1 930.8L444.5 951.9L444.9 934.3L445.3 953L445.7 920.6L446.2 952.7L446.6 932.1L447 953.1L447.4 932.7L447.8 953.5L448.3 935.8L448.7 950.1L449.1 931.3L449.5 949.3L449.9 932.7L450.4 949.2L450.8 932.5L451.2 954.6L451.6 933.3L452 952.3L452.5 935.2L452.9 947.5L453.3 936.6L453.7 949.2L454.1 931.2L454.6 948.6L455 936.6L455.4 953.6L455.8 931.2L456.2 951.5L456.7 935.8L457.1 949.6L457.5 933.7L457.9 947.6L458.3 931.2L458.8 952.1L459.2 931L459.6 948.9L460 933.4L460.4 952.1L460.9 935.2L461.3 948.2L461.7 931L462.1 949.9L462.5 931.6L463 951.9L463.4 932.9L463.8 948.6L464.2 934.9L464.6 946.9L465.1 931.7L465.5 946.4L465.9 932.5L466.3 947.9L466.7 932.2L467.2 947.2L467.6 931.1L468 947.4L468.4 932.6L468.8 949.3L469.3 931.2L469.7 948.1L470.1 936.5L470.5 948.9L470.9 933.7L471.4 948.5L471.8 933L472.2 949.9L472.6 931.9L473 950.2L473.5 932.7L473.9 949.6L474.3 931.3L474.7 950.9L475.1 931.5L475.6 948.2L476 931.9L476.4 945.7L476.8 931L477.2 947.8L477.7 934.9L478.1 948.7L478.5 933.5L478.9 945.1L479.3 932.1L479.8 947.1L480.2 933.2L480.6 949.3L481 931.3L481.4 944.9L481.9 931.6L482.3 946.4L482.7 934.5L483.1 943.6L483.5 931.8L484 944.6L484.4 933.4L484.8 947.3L485.2 931.1L485.6 944.6L486.1 934.1L486.5 943.5L486.9 931.9L487.3 948.1L487.7 931.2L488.2 947.1L488.6 934.4L489 944.2L489.4 931.7L489.8 946.7L490.3 935.2L490.7 943.5L491.1 934.5L491.5 956.9L491.9 955.1L492.4 977.5L492.8 969.6L493.2 1001.7L493.6 1006.9L494 1027.7L494.5 1028.3L494.9 1033.5L495.3 1029.5L495.7 1033.3L496.1 1028.8L496.6 1034.4L497 1030.1L497.4 1034L497.8 1029.6L498.2 1034.5L498.7 1030.5L499.1 1034.7L499.5 1030.6L499.9 1034.3L500.3 1031.1" stroke="#8a0a0a" stroke-width="1" fill="none" stroke-linejoin="bevel"/><path d="M121.5 1035L121.9 1035.5L122.3 1034.7L122.8 1035.4L123.2 1034.4L123.6 1035.4L124 1034L124.4 1035.5L124.9 1033L125.3 1035.2L125.7 1031.5L126.1 1035.2L126.5 1030.9L127 1035.2L127.4 1029.7L127.8 1035.2L128.2 1029.2L128.6 1035.1L129.1 1028.3L129.5 1034.7L129.9 1027L130.3 1035L130.7 1025.8L131.2 1035.6L131.6 1025.5L132 1035L132.4 1024.4L132.8 1035.4L133.3 1023.4L133.7 1035.3L134.1 1023.4L134.5 1034.8L134.9 1021.6L135.4 1035.3L135.8 1021.6L136.2 1035.2L136.6 1014.7L137 1033.9L137.5 1020.5L137.9 1035.5L138.3 1020.5L138.7 1035L139.1 1018.8L139.6 1035.2L140 1017.7L140.4 1034.9L140.8 1016.6L141.2 1035L141.7 1017.5L142.1 1034.8L142.5 1017.6L142.9 1035.4L143.3 1018.2L143.8 1034.4L144.2 1017.3L144.6 1034L145 1018.4L145.4 1031.8L145.9 1016.7L146.3 1033.3L146.7 1016.1L147.1 1031.4L147.5 1015.3L148 1032.3L148.4 1015L148.8 1036.2L149.2 1015.1L149.6 1031.1L150.1 1014.8L150.5 1029.9L150.9 1013.1L151.3 1029.1L151.7 1014.6L152.2 1029.3L152.6 1013.3L153 1029.2L153.4 1013L153.8 1027.7L154.3 1011.4L154.7 1027.1L155.1 1011L155.5 1028.6L155.9 1011.7L156.4 1028.2L156.8 1011L157.2 1025.9L157.6 1009.6L158 1027.3L158.5 1009.1L158.9 1025.3L159.3 1009.3L159.7 1026L160.1 1008.3L160.6 1024.2L161 1007L161.4 1024.1L161.8 1008.5L162.2 1024.4L162.7 1007.7L163.1 1023.9L163.5 1006.9L163.9 1022L164.3 1005.5L164.8 1021.6L165.2 1004.8L165.6 1020.7L166 1003.3L166.4 1019.1L166.9 1001.8L167.3 1016.5L167.7 998.5L168.1 1015.7L168.5 996.1L169 1014.3L169.4 994.5L169.8 1011.5L170.2 988.3L170.6 1009.9L171.1 991L171.5 1009.3L171.9 989.4L172.3 1006.1L172.7 986.7L173.2 1005.1L173.6 985.7L174 1002.5L174.4 983.6L174.8 1002L175.3 979.6L175.7 1001L176.1 977.9L176.5 999.8L176.9 976.3L177.4 997.7L177.8 975L178.2 996.5L178.6 975.3L179 993.5L179.5 970.8L179.9 990.7L180.3 971.5L180.7 988.8L181.1 969.4L181.6 988.1L182 968.5L182.4 987.1L182.8 966.9L183.2 984L183.7 964.5L184.1 982.6L184.5 964.8L184.9 980.8L185.3 961.9L185.8 977L186.2 960.6L186.6 975.6L187 957.1L187.4 974.3L187.9 958.3L188.3 971.3L188.7 956.1L189.1 969.3L189.5 956.2L190 968.8L190.4 952.6L190.8 965.9L191.2 950.7L191.6 966.1L192.1 948.2L192.5 963.3L192.9 943.9L193.3 963.3L193.7 939.9L194.2 962.3L194.6 936.7L195 957.9L195.4 936.5L195.8 957.7L196.3 934.5L196.7 956.5L197.1 930.9L197.5 955.9L197.9 926.7L198.4 954.9L198.8 924.3L199.2 954.5L199.6 923.8L200 952.9L200.5 904.3L200.9 951.4L201.3 916.5L201.7 945.8L202.1 913.9L202.6 945.4L203 911L203.4 940.2L203.8 911.6L204.2 941.1L204.7 908.4L205.1 939.6L205.5 906.6L205.9 935.2L206.3 889.9L206.8 934.5L207.2 901.4L207.6 929.2L208 898.2L208.4 926.9L208.9 898.9L209.3 925.7L209.7 895.2L210.1 924.9L210.5 894.2L211 922.1L211.4 890.5L211.8 921.6L212.2 891.5L212.6 919.5L213.1 889.2L213.5 917.6L213.9 886.3L214.3 915.6L214.7 882.6L215.2 913.4L215.6 884L216 908.8L216.4 880.1L216.8 909.6L217.3 881.1L217.7 904.6L218.1 877.9L218.5 903.4L218.9 860.6L219.4 900.3L219.8 874.8L220.2 899.7L220.6 871.4L221 899L221.5 869.2L221.9 896.9L222.3 867.7L222.7 895.4L223.1 866.1L223.6 893.1L224 866.1L224.4 890.2L224.8 863.3L225.2 886.1L225.7 861.3L226.1 888.4L226.5 859.3L226.9 886L227.3 856.7L227.8 887L228.2 854.6L228.6 886.4L229 852.5L229.4 885.3L229.9 852.7L230.3 881.3L230.7 850.3L231.1 880.8L231.5 833L232 881.5L232.4 851.4L232.8 883L233.2 848.7L233.6 880.9L234.1 849.1L234.5 883.3L234.9 845.9L235.3 879.3L235.7 846.8L236.2 879.6L236.6 847.7L237 878.9L237.4 839.4L237.8 875.8L238.3 846L238.7 878.4L239.1 843.8L239.5 877.6L239.9 842L240.4 876.2L240.8 840.2L241.2 874.4L241.6 839.9L242 874.9L242.5 840.8L242.9 874.8L243.3 841L243.7 874L244.1 838.4L244.6 872.5L245 838L245.4 874.7L245.8 838.3L246.2 874.7L246.7 839.6L247.1 870.5L247.5 837.3L247.9 872.6L248.3 837.2L248.8 873.6L249.2 836.1L249.6 871.7L250 835.9L250.4 881.3L250.9 817.5L251.3 870.1L251.7 836.9L252.1 872.9L252.5 838.5L253 871.2L253.4 837.2L253.8 868.6L254.2 824.3L254.6 868.6L255.1 834.2L255.5 871.8L255.9 837.8L256.3 868.1L256.7 836.9L257.2 867.4L257.6 833.2L258 870.4L258.4 820.9L258.8 868.4L259.3 834.5L259.7 868.1L260.1 830.7L260.5 867.5L260.9 833.4L261.4 868.3L261.8 814.2L262.2 869.9L262.6 834L263 869.3L263.5 835L263.9 868.1L264.3 834L264.7 868.2L265.1 833.4L265.6 867.6L266 835.7L266.4 866.5L266.8 832.6L267.2 868.4L267.7 831.8L268.1 868.6L268.5 831.8L268.9 866.5L269.3 834.8L269.8 868.1L270.2 812.4L270.6 877.2L271 831.3L271.4 867.1L271.9 831.9L272.3 867.9L272.7 832.8L273.1 868.3L273.5 830.5L274 869L274.4 832.9L274.8 867.1L275.2 832.6L275.6 872.4L276.1 834.8L276.5 867.5L276.9 833.2L277.3 867.9L277.7 833.1L278.2 869.2L278.6 832.8L279 866.8L279.4 836.9L279.8 867.5L280.3 834.9L280.7 870.1L281.1 838L281.5 867.3L281.9 836.3L282.4 867.4L282.8 837.8L283.2 870.6L283.6 836.3L284 869.5L284.5 837.4L284.9 870.6L285.3 838.4L285.7 871.2L286.1 838.3L286.6 872.7L287 841.5L287.4 870.5L287.8 839.6L288.2 873L288.7 841.7L289.1 870.2L289.5 843.4L289.9 871L290.3 843.3L290.8 868.5L291.2 850.4L291.6 870.2L292 847.3L292.4 871L292.9 843L293.3 868.6L293.7 843.7L294.1 870.5L294.5 851.6L295 873.4L295.4 837.5L295.8 872.2L296.2 846.5L296.6 878.6L297.1 842.8L297.5 872.1L297.9 846.5L298.3 877.3L298.7 851.2L299.2 871L299.6 843.4L300 879.4L300.4 849.8L300.8 872L301.3 849.3L301.7 876.8L302.1 849L302.5 875.4L302.9 856.5L303.4 873.5L303.8 852.3L304.2 872.5L304.6 850.7L305 878L305.5 854.2L305.9 879L306.3 852.3L306.7 884.3L307.1 855.4L307.6 880.4L308 858.6L308.4 876L308.8 860.9L309.2 880.4L309.7 857.6L310.1 882.3L310.5 856.8L310.9 881.9L311.3 856.5L311.8 880.4L312.2 860.9L312.6 883.6L313 858.5L313.4 887.7L313.9 859.1L314.3 882L314.7 857.2L315.1 884.8L315.5 864.3L316 880L316.4 856.5L316.8 881.2L317.2 860.9L317.6 887L318.1 861.7L318.5 885.8L318.9 867.2L319.3 883.5L319.7 863.4L320.2 889.8L320.6 867.1L321 883.3L321.4 865.3L321.8 891.3L322.3 866.3L322.7 888L323.1 866.6L323.5 890.6L323.9 865.5L324.4 891L324.8 867.3L325.2 892.4L325.6 867.6L326 894.3L326.5 865.8L326.9 894.2L327.3 866.3L327.7 894.3L328.1 872.6L328.6 896L329 869.7L329.4 895L329.8 871.6L330.2 897.2L330.7 877L331.1 892.9L331.5 871.4L331.9 892.7L332.3 875.3L332.8 895.4L333.2 875.9L333.6 895.6L334 870.3L334.4 900L334.9 864.4L335.3 898.9L335.7 869.1L336.1 900.5L336.5 878.3L337 895.4L337.4 880L337.8 903.6L338.2 878.4L338.6 908.7L339.1 874.1L339.5 906.7L339.9 876.1L340.3 907.5L340.7 873.9L341.2 907.3L341.6 874.4L342 902.5L342.4 877.6L342.8 910.1L343.3 878.8L343.7 909.6L344.1 880.7L344.5 908.3L344.9 884.5L345.4 911.2L345.8 882.5L346.2 910.9L346.6 883.8L347 912L347.5 879.5L347.9 912.3L348.3 882.7L348.7 904.1L349.1 880.9L349.6 909.8L350 883.3L350.4 907.2L350.8 886.6L351.2 907.3L351.7 889.5L352.1 916.9L352.5 880.5L352.9 912.4L353.3 883.3L353.8 907.9L354.2 885.2L354.6 917.9L355 884.2L355.4 914.4L355.9 885.9L356.3 914.2L356.7 883.5L357.1 917.1L357.5 884.2L358 918.6L358.4 892.4L358.8 916.1L359.2 886.2L359.6 918.2L360.1 882.8L360.5 917.5L360.9 893.9L361.3 916.6L361.7 893.2L362.2 914.9L362.6 887.7L363 921.7L363.4 894.9L363.8 923L364.3 889.1L364.7 916.7L365.1 890.1L365.5 914.7L365.9 894.9L366.4 924.9L366.8 893L367.2 922.8L367.6 900.6L368 916.5L368.5 902.3L368.9 935.2L369.3 899L369.7 919.6L370.1 900.3L370.6 927.4L371 904.1L371.4 921.2L371.8 898.9L372.2 924.4L372.7 900.4L373.1 925.2L373.5 902.2L373.9 927.6L374.3 900.9L374.8 928.1L375.2 900.8L375.6 927.8L376 906.3L376.4 929.1L376.9 904.3L377.3 930.1L377.7 907.2L378.1 930.7L378.5 904L379 930.3L379.4 907.9L379.8 925.9L380.2 906.5L380.6 930.9L381.1 911.5L381.5 926.5L381.9 913.9L382.3 930.5L382.7 908.2L383.2 930.7L383.6 907.6L384 929.1L384.4 910.4L384.8 931.8L385.3 909L385.7 930.8L386.1 909.4L386.5 931.4L386.9 911.7L387.4 932.9L387.8 909.7L388.2 930.3L388.6 912.8L389 932.7L389.5 912.3L389.9 930.1L390.3 915.6L390.7 927.7L391.1 913.3L391.6 934.3L392 916.6L392.4 930.1L392.8 918.7L393.2 934.4L393.7 915.3L394.1 930.4L394.5 917.8L394.9 933.5L395.3 917.8L395.8 935L396.2 913.8L396.6 933.7L397 913.8L397.4 935.3L397.9 917.7L398.3 932.5L398.7 913.7L399.1 932.3L399.5 920.2L400 929.6L400.4 917.7L400.8 933.9L401.2 916.2L401.6 931L402.1 919L402.5 931.5L402.9 919.6L403.3 934.8L403.7 918L404.2 934.7L404.6 915.7L405 935.9L405.4 920L405.8 935.3L406.3 918.4L406.7 935.7L407.1 915.6L407.5 936L407.9 915.9L408.4 935.7L408.8 916.1L409.2 934.9L409.6 919.5L410 934.5L410.5 918.8L410.9 935.8L411.3 922.3L411.7 933.4L412.1 916.5L412.6 932.2L413 919.4L413.4 936.9L413.8 920.3L414.2 934.4L414.7 920.8L415.1 935L415.5 920.2L415.9 933.7L416.3 922L416.8 936.6L417.2 920.5L417.6 935.1L418 918.1L418.4 935.5L418.9 923.1L419.3 936.7L419.7 922.4L420.1 936.9L420.5 919.8L421 934.6L421.4 923.4L421.8 932.1L422.2 923.4L422.6 933L423.1 920.9L423.5 931.6L423.9 920.8L424.3 935.3L424.7 922.9L425.2 932.7L425.6 917.5L426 935.6L426.4 920.6L426.8 934.6L427.3 919.4L427.7 935.4L428.1 921L428.5 933.4L428.9 922.8L429.4 933.8L429.8 921L430.2 934.3L430.6 921.1L431 932.9L431.5 920.9L431.9 934.3L432.3 917.4L432.7 933.9L433.1 914.5L433.6 935.3L434 916.5L434.4 931.6L434.8 917L435.2 936.3L435.7 918.5L436.1 933.7L436.5 919.4L436.9 935.6L437.3 919.2L437.8 935L438.2 917L438.6 930.4L439 917.4L439.4 934L439.9 915.4L440.3 933.8L440.7 916.5L441.1 931.5L441.5 908.4L442 931.7L442.4 916L442.8 935.6L443.2 918L443.6 934L444.1 921L444.5 932.2L444.9 920.6L445.3 935.2L445.7 919L446.2 932.6L446.6 915.9L447 931.4L447.4 916.8L447.8 936L448.3 918.6L448.7 941.4L449.1 916.9L449.5 936.7L449.9 918.3L450.4 936.2L450.8 921.2L451.2 934.7L451.6 921.4L452 935.1L452.5 917.2L452.9 935.6L453.3 918.5L453.7 932.1L454.1 918L454.6 931.4L455 917.3L455.4 936.3L455.8 922.3L456.2 936.3L456.7 917.2L457.1 934.7L457.5 921L457.9 934.8L458.3 917.6L458.8 936.6L459.2 922.5L459.6 932.5L460 922.3L460.4 933.6L460.9 914.3L461.3 937L461.7 920.3L462.1 937.1L462.5 918.2L463 936.9L463.4 912.2L463.8 934.8L464.2 918.2L464.6 937.3L465.1 918.7L465.5 936.2L465.9 918.2L466.3 935.3L466.7 918.5L467.2 935.9L467.6 923.9L468 938.1L468.4 918.8L468.8 934.3L469.3 918.3L469.7 936.4L470.1 920.1L470.5 936.7L470.9 923.6L471.4 941.4L471.8 920.6L472.2 937.7L472.6 921.7L473 932.8L473.5 918.3L473.9 936.6L474.3 918L474.7 934.6L475.1 924.2L475.6 936.6L476 920.9L476.4 934.6L476.8 919.2L477.2 937.7L477.7 918.4L478.1 935.3L478.5 921L478.9 937.8L479.3 918.8L479.8 939.2L480.2 919.7L480.6 936.2L481 918.1L481.4 938.5L481.9 918L482.3 936.2L482.7 918.1L483.1 939.7L483.5 918.1L484 937.8L484.4 918.6L484.8 938.2L485.2 919.1L485.6 938.9L486.1 922L486.5 935.4L486.9 919L487.3 937.9L487.7 917.6L488.2 938L488.6 919.6L489 938.6L489.4 919.2L489.8 939.5L490.3 919.8L490.7 936.6L491.1 920.6L491.5 946.9L491.9 942.2L492.4 963.7L492.8 978.7L493.2 1013.1L493.6 1026L494 1035.2L494.5 1028.4L494.9 1033.9L495.3 1027.7L495.7 1034.5L496.1 1028.7L496.6 1035.5L497 1029L497.4 1034.8L497.8 1029.9L498.2 1034.7L498.7 1031.6L499.1 1034.9L499.5 1031.2L499.9 1035.4L500.3 1032.2" stroke="#e2420a" stroke-width="1" fill="none" stroke-linejoin="bevel"/><path d="M263.9 629.9V1035.5M260.9 629.9H266.9M260.9 1035.5H266.9" stroke="#3a8252" stroke-width="1.4" fill="none"/><path d="M282.9 968.9V1028.8M279.9 968.9H285.9M279.9 1028.8H285.9" stroke="#3a8252" stroke-width="1.4" fill="none"/><path d="M301.9 962.6V1003.1M298.9 962.6H304.9M298.9 1003.1H304.9" stroke="#3a8252" stroke-width="1.4" fill="none"/><path d="M311.4 992.1V1035.5M308.4 992.1H314.4M308.4 1035.5H314.4" stroke="#3a8252" stroke-width="1.4" fill="none"/><path d="M320.9 961.9V988.9M317.9 961.9H323.9M317.9 988.9H323.9" stroke="#3a8252" stroke-width="1.4" fill="none"/><path d="M339.9 970.8V1025.7M336.9 970.8H342.9M336.9 1025.7H342.9" stroke="#3a8252" stroke-width="1.4" fill="none"/><path d="M358.9 979.3V1017.1M355.9 979.3H361.9M355.9 1017.1H361.9" stroke="#3a8252" stroke-width="1.4" fill="none"/><path d="M377.9 978.4V1035.5M374.9 978.4H380.9M374.9 1035.5H380.9" stroke="#3a8252" stroke-width="1.4" fill="none"/><path d="M396.9 974.2V1028.5M393.9 974.2H399.9M393.9 1028.5H399.9" stroke="#3a8252" stroke-width="1.4" fill="none"/><path d="M406.4 979.7V1022.9M403.4 979.7H409.4M403.4 1022.9H409.4" stroke="#3a8252" stroke-width="1.4" fill="none"/><path d="M415.8 981.7V1031.9M412.8 981.7H418.8M412.8 1031.9H418.8" stroke="#3a8252" stroke-width="1.4" fill="none"/><path d="M434.8 971.1V1004.1M431.8 971.1H437.8M431.8 1004.1H437.8" stroke="#3a8252" stroke-width="1.4" fill="none"/><path d="M472.8 868.6V1035.5M469.8 868.6H475.8M469.8 1035.5H475.8" stroke="#3a8252" stroke-width="1.4" fill="none"/><circle cx="169" cy="731.9" r="7" fill="#e40808"/><circle cx="188" cy="734.4" r="7" fill="#e40808"/><circle cx="207" cy="782.9" r="7" fill="#e40808"/><circle cx="216.4" cy="735.4" r="7" fill="#e40808"/><circle cx="225.9" cy="741.9" r="7" fill="#e40808"/><circle cx="244.9" cy="720.4" r="7" fill="#e40808"/><circle cx="263.9" cy="721.2" r="7" fill="#e40808"/><circle cx="282.9" cy="782.9" r="7" fill="#e40808"/><circle cx="301.9" cy="703.2" r="7" fill="#e40808"/><circle cx="311.4" cy="812.4" r="7" fill="#e40808"/><circle cx="320.9" cy="749.4" r="7" fill="#e40808"/><circle cx="339.9" cy="734.4" r="7" fill="#e40808"/><circle cx="358.9" cy="768.1" r="7" fill="#e40808"/><circle cx="377.9" cy="799.8" r="7" fill="#e40808"/><circle cx="396.9" cy="752.4" r="7" fill="#e40808"/><circle cx="406.4" cy="744.9" r="7" fill="#e40808"/><circle cx="415.8" cy="736.3" r="7" fill="#e40808"/><circle cx="434.8" cy="733.3" r="7" fill="#e40808"/><circle cx="453.8" cy="761.7" r="7" fill="#e40808"/><circle cx="472.8" cy="795.7" r="7" fill="#e40808"/><rect x="162.3" y="1007.1" width="13.4" height="13.4" fill="#0000d8"/><rect x="181.3" y="997.8" width="13.4" height="13.4" fill="#0000d8"/><rect x="200.3" y="987" width="13.4" height="13.4" fill="#0000d8"/><rect x="209.8" y="974.5" width="13.4" height="13.4" fill="#0000d8"/><rect x="219.2" y="962" width="13.4" height="13.4" fill="#0000d8"/><rect x="238.2" y="935.8" width="13.4" height="13.4" fill="#0000d8"/><rect x="257.2" y="923.5" width="13.4" height="13.4" fill="#0000d8"/><rect x="276.2" y="916.9" width="13.4" height="13.4" fill="#0000d8"/><rect x="295.2" y="905.4" width="13.4" height="13.4" fill="#0000d8"/><rect x="304.7" y="908.1" width="13.4" height="13.4" fill="#0000d8"/><rect x="314.2" y="904" width="13.4" height="13.4" fill="#0000d8"/><rect x="333.2" y="903.5" width="13.4" height="13.4" fill="#0000d8"/><rect x="352.2" y="897.9" width="13.4" height="13.4" fill="#0000d8"/><rect x="371.2" y="897.9" width="13.4" height="13.4" fill="#0000d8"/><rect x="390.2" y="890.4" width="13.4" height="13.4" fill="#0000d8"/><rect x="399.7" y="887.6" width="13.4" height="13.4" fill="#0000d8"/><rect x="409.1" y="907.3" width="13.4" height="13.4" fill="#0000d8"/><rect x="428.1" y="903.5" width="13.4" height="13.4" fill="#0000d8"/><rect x="447.1" y="903.5" width="13.4" height="13.4" fill="#0000d8"/><rect x="466.1" y="897.1" width="13.4" height="13.4" fill="#0000d8"/><path d="M263.9 1022.9L271.7 1030.7L263.9 1038.5L256.1 1030.7Z" fill="#0a5e1e"/><path d="M282.9 991L290.7 998.8L282.9 1006.6L275.1 998.8Z" fill="#0a5e1e"/><path d="M301.9 974.8L309.7 982.6L301.9 990.4L294.1 982.6Z" fill="#0a5e1e"/><path d="M311.4 1010.7L319.2 1018.5L311.4 1026.3L303.6 1018.5Z" fill="#0a5e1e"/><path d="M320.9 967.6L328.7 975.4L320.9 983.2L313.1 975.4Z" fill="#0a5e1e"/><path d="M339.9 990.4L347.7 998.2L339.9 1006L332.1 998.2Z" fill="#0a5e1e"/><path d="M358.9 989.6L366.7 997.4L358.9 1005.2L351.1 997.4Z" fill="#0a5e1e"/><path d="M377.9 1006.3L385.7 1014.1L377.9 1021.9L370.1 1014.1Z" fill="#0a5e1e"/><path d="M396.9 993.5L404.7 1001.3L396.9 1009.1L389.1 1001.3Z" fill="#0a5e1e"/><path d="M406.4 993.5L414.2 1001.3L406.4 1009.1L398.6 1001.3Z" fill="#0a5e1e"/><path d="M415.8 999L423.6 1006.8L415.8 1014.6L408 1006.8Z" fill="#0a5e1e"/><path d="M434.8 980.1L442.6 987.9L434.8 995.7L427 987.9Z" fill="#0a5e1e"/><path d="M472.8 1014.3L480.6 1022.1L472.8 1029.9L465 1022.1Z" fill="#0a5e1e"/></g>
<rect x="121.5" y="645.5" width="379.8" height="390" fill="none" stroke="#3a2eb4" stroke-width="1.6"/>
<path d="M169 1035.5v-6.2M169 645.5v6.2M216.4 1035.5v-6.2M216.4 645.5v6.2M263.9 1035.5v-6.2M263.9 645.5v6.2M311.4 1035.5v-6.2M311.4 645.5v6.2M358.9 1035.5v-6.2M358.9 645.5v6.2M406.4 1035.5v-6.2M406.4 645.5v6.2M453.8 1035.5v-6.2M453.8 645.5v6.2M121.5 957.5h6.6M501.3 957.5h-6.6M121.5 879.5h6.6M501.3 879.5h-6.6M121.5 801.5h6.6M501.3 801.5h-6.6M121.5 723.5h6.6M501.3 723.5h-6.6" stroke="#2c2488" stroke-width="1.5" fill="none"/>
<path d="M169 1028.2L176.6 1041L161.4 1041Z" fill="#fa8a18"/><path d="M188 1020.4L195.6 1033.2L180.4 1033.2Z" fill="#fa8a18"/><path d="M207 1017.1L214.6 1029.9L199.4 1029.9Z" fill="#fa8a18"/><path d="M216.4 1016.3L224 1029.1L208.8 1029.1Z" fill="#fa8a18"/><path d="M225.9 1013.2L233.5 1026L218.3 1026Z" fill="#fa8a18"/><path d="M244.9 1016.6L252.5 1029.4L237.3 1029.4Z" fill="#fa8a18"/><path d="M263.9 1016.5L271.5 1029.3L256.3 1029.3Z" fill="#fa8a18"/><path d="M282.9 1016.9L290.5 1029.7L275.3 1029.7Z" fill="#fa8a18"/><path d="M301.9 1019.7L309.5 1032.5L294.3 1032.5Z" fill="#fa8a18"/><path d="M311.4 1021.5L319 1034.3L303.8 1034.3Z" fill="#fa8a18"/><path d="M320.9 1020.7L328.5 1033.5L313.3 1033.5Z" fill="#fa8a18"/><path d="M339.9 1022.2L347.5 1035L332.3 1035Z" fill="#fa8a18"/><path d="M358.9 1024L366.5 1036.8L351.3 1036.8Z" fill="#fa8a18"/><path d="M377.9 1026.1L385.5 1038.9L370.3 1038.9Z" fill="#fa8a18"/><path d="M396.9 1026.4L404.5 1039.2L389.3 1039.2Z" fill="#fa8a18"/><path d="M406.4 1025.7L414 1038.5L398.8 1038.5Z" fill="#fa8a18"/><path d="M415.8 1024.7L423.4 1037.5L408.2 1037.5Z" fill="#fa8a18"/><path d="M434.8 1027.4L442.4 1040.2L427.2 1040.2Z" fill="#fa8a18"/><path d="M453.8 1027.9L461.4 1040.7L446.2 1040.7Z" fill="#fa8a18"/><path d="M472.8 1027.9L480.4 1040.7L465.2 1040.7Z" fill="#fa8a18"/>
<text x="123.1" y="1061.2" font-size="19" fill="#111" text-anchor="middle" stroke="#111" stroke-width="0.3">50</text>
<text x="170.6" y="1061.2" font-size="19" fill="#111" text-anchor="middle" stroke="#111" stroke-width="0.3">100</text>
<text x="218" y="1061.2" font-size="19" fill="#111" text-anchor="middle" stroke="#111" stroke-width="0.3">150</text>
<text x="265.5" y="1061.2" font-size="19" fill="#111" text-anchor="middle" stroke="#111" stroke-width="0.3">200</text>
<text x="313" y="1061.2" font-size="19" fill="#111" text-anchor="middle" stroke="#111" stroke-width="0.3">250</text>
<text x="360.5" y="1061.2" font-size="19" fill="#111" text-anchor="middle" stroke="#111" stroke-width="0.3">300</text>
<text x="408" y="1061.2" font-size="19" fill="#111" text-anchor="middle" stroke="#111" stroke-width="0.3">350</text>
<text x="455.4" y="1061.2" font-size="19" fill="#111" text-anchor="middle" stroke="#111" stroke-width="0.3">400</text>
<text x="502.9" y="1061.2" font-size="19" fill="#111" text-anchor="middle" stroke="#111" stroke-width="0.3">450</text>
<text x="112.1" y="1040" font-size="19" fill="#111" text-anchor="end" stroke="#111" stroke-width="0.3">0</text>
<text x="112.1" y="962" font-size="19" fill="#111" text-anchor="end" stroke="#111" stroke-width="0.3">5</text>
<text x="112.1" y="884" font-size="19" fill="#111" text-anchor="end" stroke="#111" stroke-width="0.3">10</text>
<text x="112.1" y="806" font-size="19" fill="#111" text-anchor="end" stroke="#111" stroke-width="0.3">15</text>
<text x="112.1" y="728" font-size="19" fill="#111" text-anchor="end" stroke="#111" stroke-width="0.3">20</text>
<text x="112.1" y="650" font-size="19" fill="#111" text-anchor="end" stroke="#111" stroke-width="0.3">25</text>
<text x="313.6" y="1091.4" font-size="20.8" fill="#111" font-weight="bold" text-anchor="middle">Time [ms]</text>
<text transform="translate(17.2 844.3) rotate(-90)" font-size="20.8" font-weight="bold" fill="#111" text-anchor="middle">Electron density and</text>
<text transform="translate(43.2 845) rotate(-90)" font-size="20.8" font-weight="bold" fill="#111" text-anchor="middle">average density</text>
<text transform="translate(81.6 840.9) rotate(-90)" font-size="21.8" font-weight="bold" fill="#111" text-anchor="middle">[x10<tspan font-size="12.8" dy="-10.4">17</tspan><tspan dy="10.4"> m</tspan><tspan font-size="12.8" dy="-10.4">-3</tspan><tspan dy="10.4">]</tspan></text>
<rect x="287.7" y="587.2" width="214.5" height="132.4" fill="#fff" stroke="#333" stroke-width="1.6"/>
<circle cx="314" cy="601.6" r="7" fill="#e40808"/>
<text x="336" y="606.8" font-size="14.6" fill="#cc2c36">CC-TS (Z = 0.6 m)</text>
<rect x="307.5" y="616" width="13.4" height="13.4" fill="#0000d8"/>
<text x="336" y="627.9" font-size="14.6" fill="#2c2cbc">IP (Z = 10.35 m)</text>
<path d="M314 636L321.8 643.8L314 651.6L306.2 643.8Z" fill="#0a5e1e"/>
<text x="336" y="649" font-size="14.6" fill="#2f6a44">EC-TS (Z = 10.875 m)</text>
<path d="M313.7 658.5L321.3 671.3L306.1 671.3Z" fill="#fa8a18"/>
<text x="336" y="670.1" font-size="14.6" fill="#ee9440">#1 (Z = 10.975 m)</text>
<path d="M296.3 685.6H332" stroke="#7e1c22" stroke-width="1.4"/>
<text x="336" y="690.8" font-size="14.6" fill="#762020">EC-MIF3 (Z = 10.786 m)</text>
<path d="M296.3 706.6H332" stroke="#e2582c" stroke-width="1.4"/>
<text x="336" y="711.8" font-size="14.6" fill="#dc5c34">EC-MIF4 (Z = 10.766 m)</text>
</svg>
</body></html>
